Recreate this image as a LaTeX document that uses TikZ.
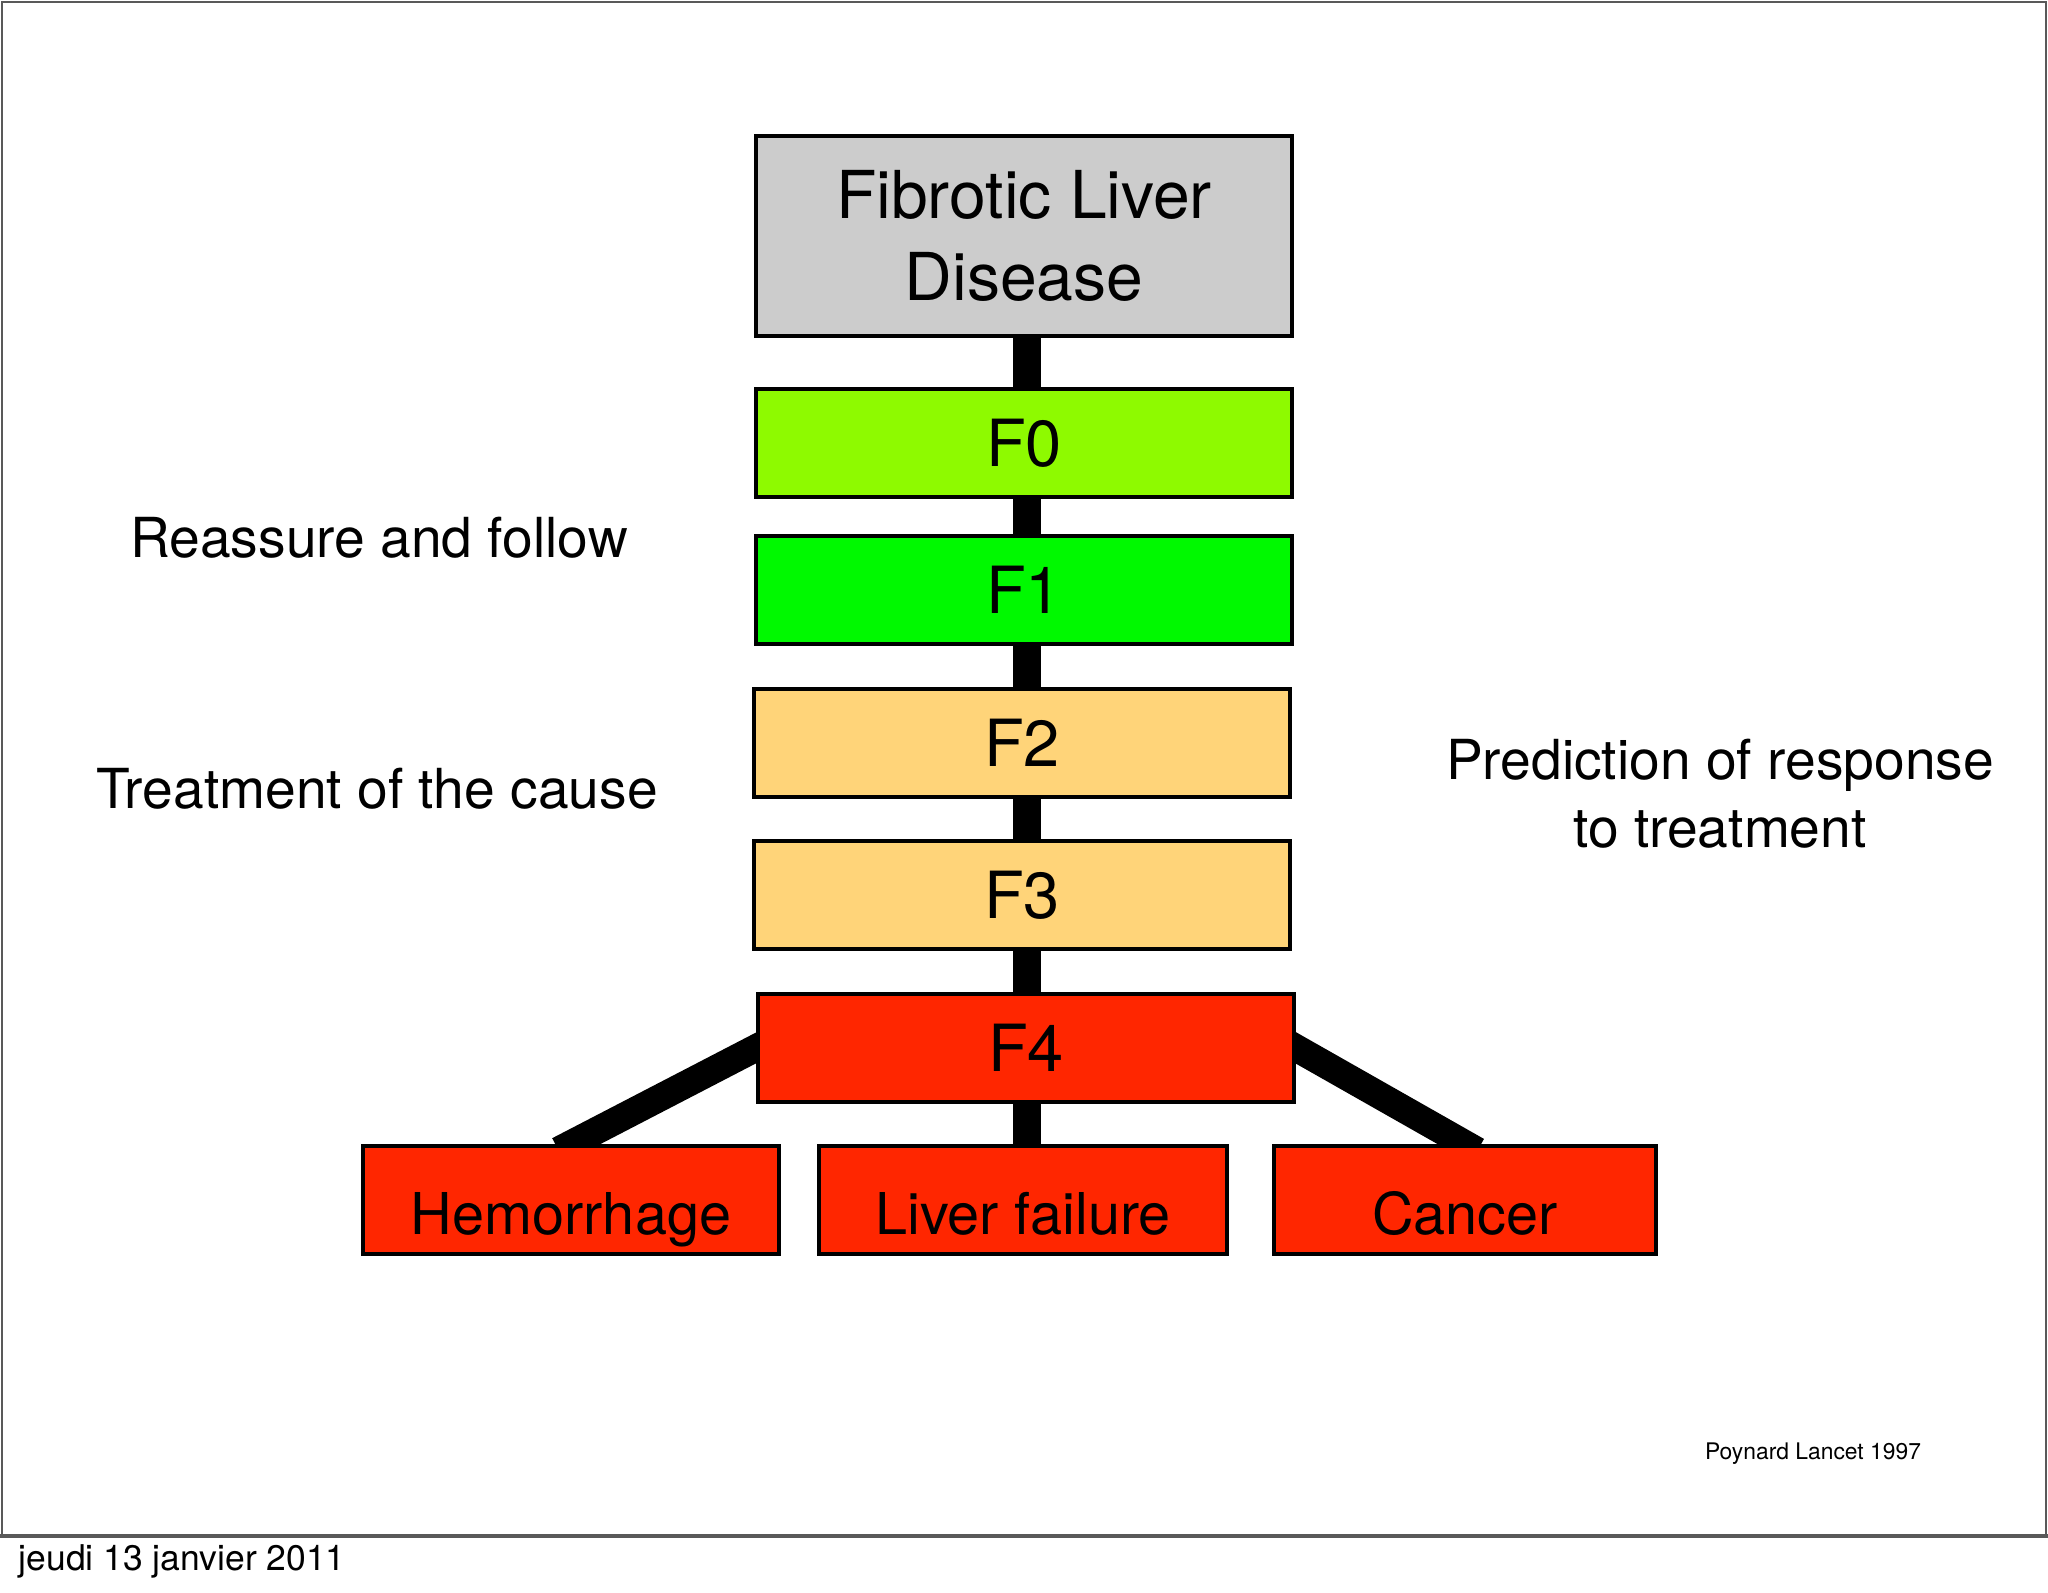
\documentclass[tikz,border=0pt]{standalone}
\usepackage{fontspec}
\setmainfont{TeX Gyre Heros}
\usetikzlibrary{backgrounds}
\definecolor{boxgray}{RGB}{204,204,204}
\definecolor{limegreen}{RGB}{142,250,0}
\definecolor{leafgreen}{RGB}{0,249,0}
\definecolor{cantaloupe}{RGB}{255,212,121}
\definecolor{redorange}{RGB}{255,38,0}
\begin{document}
\begin{tikzpicture}[
  stage/.style={draw, line width=1.2pt, fill=#1, minimum width=5.36cm, minimum height=1.08cm, inner sep=0pt, font=\fontsize{18.5}{22}\selectfont},
  outcome/.style={draw, line width=1.2pt, fill=redorange, minimum height=1.08cm, inner sep=0pt, text height=0.68cm, text depth=0cm, font=\fontsize{16.4}{20}\selectfont},
  link/.style={line width=7.8pt},
  note/.style={align=center, font=\fontsize{15.7}{19.3}\selectfont}]
\useasboundingbox (0,0) rectangle (20.48,-15.93);
\draw[black!65, line width=0.7pt] (0.02,-0.02) rectangle (20.46,-15.36);
\draw[black!65, line width=1.2pt] (0,-15.36) -- (20.48,-15.36);
% stages
\node[stage=boxgray, minimum height=2.0cm, align=center, font=\fontsize{18.8}{23.5}\selectfont] (disease) at (10.24,-2.36) {Fibrotic Liver\\Disease};
\node[stage=limegreen] (f0) at (10.24,-4.43) {F0};
\node[stage=leafgreen] (f1) at (10.24,-5.90) {F1};
\node[stage=cantaloupe] (f2) at (10.22,-7.43) {F2};
\node[stage=cantaloupe] (f3) at (10.22,-8.95) {F3};
\node[stage=redorange] (f4) at (10.26,-10.48) {F4};
\coordinate (spine) at (10.27,0);
% outcomes of cirrhosis
\node[outcome, minimum width=4.16cm] (hemorrhage) at (5.71,-12.00) {Hemorrhage};
\node[outcome, minimum width=4.08cm] (failure) at (10.23,-12.00) {Liver failure};
\node[outcome, minimum width=3.82cm] (cancer) at (14.65,-12.00) {Cancer};
\begin{scope}[on background layer]
\draw[link] (disease -| spine) -- (f0 -| spine);
\draw[link] (f0 -| spine) -- (f1 -| spine);
\draw[link] (f1 -| spine) -- (f2 -| spine);
\draw[link] (f2 -| spine) -- (f3 -| spine);
\draw[link] (f3 -| spine) -- (f4 -| spine);
\draw[link] (f4 -| spine) -- (failure -| spine);
\draw[link, shorten <=-8pt, shorten >=-4pt] (f4.west) -- (hemorrhage.north);
\draw[link, shorten <=-8pt, shorten >=-4pt] (f4.east) -- (cancer.north);
\end{scope}
% management
\node[note] (reassure) at (3.79,-5.38) {Reassure and follow};
\node[note] (treatment) at (3.77,-7.89) {Treatment of the cause};
\node[note] (prediction) at (17.20,-7.94) {Prediction of response\\to treatment};
\node[font=\fontsize{6.5}{8}\selectfont] (source) at (18.13,-14.54) {Poynard Lancet 1997};
\node[anchor=west, inner sep=0pt, font=\fontsize{10.1}{12}\selectfont] (date) at (0.18,-15.61) {jeudi 13 janvier 2011};
\end{tikzpicture}
\end{document}
